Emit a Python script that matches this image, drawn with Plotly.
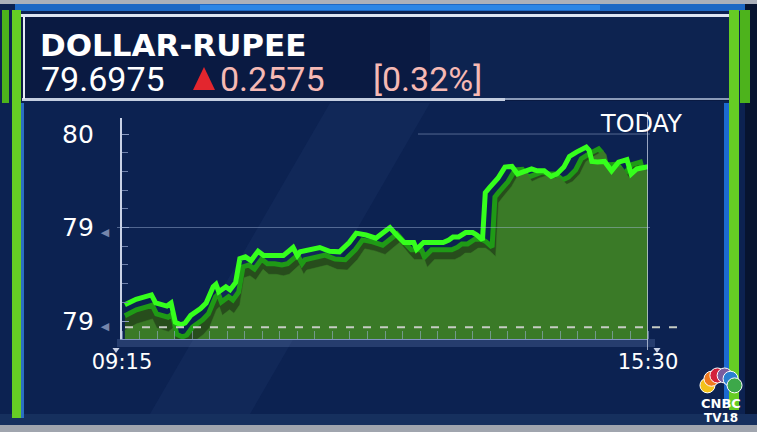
import math
import plotly.graph_objects as go

W, H = 757, 432

# ---------------- data ----------------
minutes_from_open = [2, 10, 21, 24, 32, 35, 38, 42, 45, 49, 56, 60, 65, 67, 69, 74, 77, 81, 84, 88,
                     92, 97, 101, 106, 111, 115, 122, 125, 127, 134, 141, 148, 155, 162, 167, 174,
                     181, 188, 191, 197, 201, 208, 210, 215, 224, 229, 233, 236, 240, 245, 250, 253,
                     257, 259, 262, 268, 273, 278, 282, 287, 292, 296, 301, 306, 310, 315, 319, 324,
                     331, 333, 335, 339, 344, 349, 354, 360, 363, 367, 375]
usd_inr = [79.476, 79.485, 79.492, 79.479, 79.474, 79.479, 79.448, 79.444, 79.447, 79.459,
           79.470, 79.479, 79.505, 79.509, 79.497, 79.505, 79.500, 79.512, 79.550, 79.553,
           79.547, 79.562, 79.555, 79.555, 79.553, 79.555, 79.568, 79.555, 79.561, 79.565,
           79.568, 79.562, 79.561, 79.576, 79.591, 79.588, 79.583, 79.595, 79.600, 79.585,
           79.576, 79.576, 79.565, 79.576, 79.576, 79.576, 79.580, 79.585, 79.585, 79.592,
           79.592, 79.588, 79.580, 79.656, 79.664, 79.679, 79.697, 79.698, 79.686, 79.691,
           79.694, 79.691, 79.691, 79.682, 79.686, 79.697, 79.714, 79.721, 79.729, 79.724,
           79.706, 79.705, 79.706, 79.691, 79.705, 79.709, 79.686, 79.694, 79.6975]
prev_close = 79.44
y_tick_vals = [79.45, 79.60, 79.75]
y_tick_text = ["79", "79", "80"]
x_tick_vals = [0, 375]
x_tick_text = ["09:15", "15:30"]
title = "DOLLAR-RUPEE"
last_price = "79.6975"
change = "0.2575"
change_pct = "[0.32%]"

# ---------------- helpers ----------------
def fx(p):
    return p / W

def fy(p):
    return 1 - p / H

PX_PER_VAL = 1 / 0.001515      # vertical scale of the front plane (px per rupee)
MIN_PER_PX = 375 / 540          # horizontal scale (minutes per px)
Y_RANGE = [79.4212, 79.7757]    # front plane: pixel 347 .. 113
GREEN_BRIGHT = "#35ff1c"
NAVY = "#0c2251"

def shifted_axes(dx, dy, right_clip=648, bottom=339):
    """domains/ranges for a copy of the front plane shifted by (dx, dy) px, clipped."""
    left = 117 + dx
    xdom = [fx(left), fx(right_clip)]
    xr = [0, (right_clip - left) * MIN_PER_PX]
    top = 113 + dy
    ydom = [fy(bottom), fy(top)]
    yr = [Y_RANGE[0] + (347 + dy - bottom) / PX_PER_VAL, Y_RANGE[1]]
    return xdom, xr, ydom, yr

sx_dom, sx_r, sy_dom, sy_r = shifted_axes(5, 5)
bx_dom, bx_r, by_dom, by_r = shifted_axes(10, 20)

fig = go.Figure()

# shadow (side wall of the 3D ribbon)
fig.add_trace(go.Scatter(x=minutes_from_open, y=usd_inr, mode="lines", fill="tozeroy",
                         fillcolor="#274d1c", line=dict(color="#1f9a16", width=5),
                         xaxis="x", yaxis="y", hoverinfo="skip", showlegend=False))
# back surface
fig.add_trace(go.Scatter(x=minutes_from_open, y=usd_inr, mode="lines", fill="tozeroy",
                         fillcolor="#3a7a27", line=dict(color="#3a7a27", width=0.5),
                         xaxis="x2", yaxis="y2", hoverinfo="skip", showlegend=False))
# bright front line
fig.add_trace(go.Scatter(x=minutes_from_open, y=usd_inr, mode="lines",
                         line=dict(color=GREEN_BRIGHT, width=5),
                         xaxis="x3", yaxis="y3", hoverinfo="skip", showlegend=False))

tri = "<span style='font-size:11px;color:#7685ab'>  ◀</span>"
tri_clear = "<span style='font-size:11px;color:rgba(0,0,0,0)'>  ◀</span>"
ticktext_y = [t + (tri if t != "80" else tri_clear) for t in y_tick_text]

hidden = dict(visible=False, fixedrange=True, automargin=False)
fig.update_layout(
    template="none",
    width=W, height=H, margin=dict(l=0, r=0, t=0, b=0, pad=0, autoexpand=False),
    paper_bgcolor=NAVY, plot_bgcolor="rgba(0,0,0,0)",
    showlegend=False,
    xaxis=dict(domain=sx_dom, range=sx_r, **hidden),
    yaxis=dict(domain=sy_dom, range=sy_r, **hidden),
    xaxis2=dict(domain=bx_dom, range=bx_r, overlaying="x", anchor="y2", **hidden),
    yaxis2=dict(domain=by_dom, range=by_r, overlaying="y", anchor="x2", **hidden),
    xaxis3=dict(domain=[fx(117), fx(657)], range=[0, 375], overlaying="x", anchor="y3",
                automargin=False,
                showgrid=False, zeroline=False, showline=True, linecolor="#7f93c0", linewidth=1,
                ticks="", tickvals=x_tick_vals, ticktext=x_tick_text,
                tickfont=dict(family="DejaVu Sans", size=21, color="white"),
                ticklabelstandoff=4,
                minor=dict(ticks="inside", ticklen=8, tickcolor="rgba(160,180,220,0.55)",
                           dtick=12.5, tick0=0, showgrid=False),
                fixedrange=True),
    yaxis3=dict(domain=[fy(347), fy(113)], range=Y_RANGE, overlaying="y", anchor="x3",
                automargin=False,
                showgrid=False, zeroline=False, showline=True, linecolor="#c9d2e6", linewidth=1.5,
                ticks="inside", ticklen=7, tickcolor="#8a9ac0",
                tickvals=y_tick_vals, ticktext=ticktext_y,
                tickfont=dict(family="DejaVu Sans", size=25, color="white"),
                ticklabelstandoff=6,
                minor=dict(ticks="inside", ticklen=6, tickcolor="#6e80aa", dtick=0.03,
                           tick0=79.45, showgrid=False),
                fixedrange=True),
)

shapes = []
def rect(x0, y0, x1, y1, color, layer="below", opacity=1):
    shapes.append(dict(type="rect", xref="paper", yref="paper", x0=fx(x0), x1=fx(x1),
                       y0=fy(y1), y1=fy(y0), fillcolor=color, line=dict(width=0),
                       layer=layer, opacity=opacity))

# frame decorations
rect(745, 0, 757, 432, "#071430")
rect(0, 0, 757, 4, "#aab0ba")
rect(15, 4, 745, 11, "#1d68c4")
rect(200, 5, 600, 10, "#2b86e6")
rect(0, 414, 757, 425, "#16305e")
rect(0, 425, 757, 432, "#a0a5ae")
# diagonal light streak
shapes.append(dict(type="path", xref="paper", yref="paper",
                   path=f"M {fx(330)},{fy(103)} L {fx(430)},{fy(103)} L {fx(250)},{fy(414)} L {fx(150)},{fy(414)} Z",
                   fillcolor="rgba(120,160,230,0.05)", line=dict(width=0), layer="below"))
# header box
rect(20, 14, 735, 101, "#0a1a42")
rect(430, 17, 735, 99, "#0d2350")
rect(20, 14, 735, 17, "#dde5f2")
rect(22, 98, 505, 101, "#c4cee0")
rect(505, 98, 735, 100, "#8a9ab8")
rect(23, 17, 25, 99, "#e6ecf6")
# green / blue side bars
rect(2, 10, 9, 103, "#4db31c")
rect(12, 10, 21, 418, "#66cc24")
rect(21, 103, 24, 418, "#2a6fc2")
rect(724, 103, 729, 405, "#1c6ad0")
rect(729, 10, 739, 410, "#66cc24")
rect(740, 10, 750, 103, "#4db31c")

# ruler band under the chart
rect(117, 339, 655, 347, "rgba(130,160,215,0.22)", layer="below")

# reference lines
shapes.append(dict(type="line", xref="paper", yref="y3", x0=fx(117), x1=fx(650), y0=79.60, y1=79.60,
                   line=dict(color="rgba(170,190,225,0.45)", width=1), layer="above"))
shapes.append(dict(type="line", xref="paper", yref="y3", x0=fx(418), x1=fx(650), y0=79.75, y1=79.75,
                   line=dict(color="rgba(170,190,225,0.45)", width=1), layer="above"))
shapes.append(dict(type="line", xref="paper", yref="y3", x0=fx(125), x1=fx(677), y0=prev_close, y1=prev_close,
                   line=dict(color="#c6ccc4", width=2, dash="8px,9px"), layer="above"))
# TODAY marker line
shapes.append(dict(type="line", xref="x3", yref="paper", x0=375, x1=375, y0=fy(350), y1=fy(112),
                   line=dict(color="#c9d2e6", width=1.5), layer="above"))
# small arrow heads at axis ends
for xp in (116, 657):
    shapes.append(dict(type="path", xref="paper", yref="paper",
                       path=f"M {fx(xp-3.5)},{fy(348)} L {fx(xp+3.5)},{fy(348)} L {fx(xp)},{fy(353)} Z",
                       fillcolor="#c9d2e6", line=dict(width=0), layer="above"))
# red up triangle
shapes.append(dict(type="path", xref="paper", yref="paper",
                   path=f"M {fx(204)},{fy(67)} L {fx(215)},{fy(90)} L {fx(193)},{fy(90)} Z",
                   fillcolor="#e3262e", line=dict(width=0), layer="above"))

# CNBC peacock (decorative logo)
feathers = ["#f3c11a", "#ef7a1f", "#d3223b", "#7b5d9e", "#2a7fd0", "#3da84a"]
cx, cy, r = 721, 389, 14
angles = [165, 133, 105, 75, 47, 15]
for col, a in zip(feathers, angles):
    px = cx + r * math.cos(math.radians(a))
    py = cy - r * math.sin(math.radians(a))
    shapes.append(dict(type="circle", xref="paper", yref="paper",
                       x0=fx(px - 7.5), x1=fx(px + 7.5), y0=fy(py + 7.5), y1=fy(py - 7.5),
                       fillcolor=col, line=dict(color="white", width=1), layer="above"))

fig.update_layout(shapes=shapes)

ann = []
def text(x, y, s, size, color="white", family="DejaVu Sans", anchor="left", bold=False):
    ann.append(dict(x=fx(x), y=fy(y), xref="paper", yref="paper", text=s, showarrow=False,
                    xanchor=anchor, yanchor="middle", borderpad=0,
                    font=dict(family=family, size=size, color=color, weight=700 if bold else 400)))

text(39, 45, title, 31, bold=True)
text(40, 79, last_price, 34, family="Roboto")
text(219, 79, change, 34, color="#f6b9b4", family="Roboto")
text(372, 79, change_pct, 34, color="#f6b9b4", family="Roboto")
text(641, 124, "TODAY", 24, anchor="center")
text(721, 403, "CNBC", 13, anchor="center", bold=True)
text(721, 418, "TV18", 12, anchor="center", bold=True)
fig.update_layout(annotations=ann)

fig.write_html("out.html", config={"displayModeBar": False},
               post_script="document.body.style.margin='0';document.body.style.overflow='hidden';")
